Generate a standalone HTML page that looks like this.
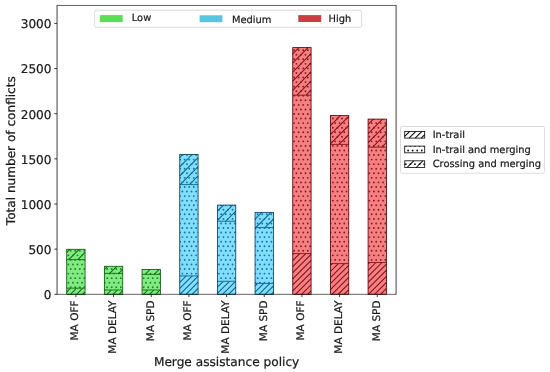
<!DOCTYPE html>
<html><head><meta charset="utf-8"><title>Conflicts</title>
<style>html,body{margin:0;padding:0;background:#fff}svg{display:block}text{font-family:'DejaVu Sans','Liberation Sans',sans-serif;fill:#1a1a1a;stroke:#1a1a1a;stroke-width:0.22px;text-rendering:geometricPrecision}</style></head><body>
<svg width="550" height="372" viewBox="0 0 550 372">
<defs><filter id="soft" x="0" y="0" width="550" height="372" filterUnits="userSpaceOnUse"><feGaussianBlur stdDeviation="0.35"/></filter></defs>
<rect width="550" height="372" fill="#fff"/>
<g filter="url(#soft)">
<rect x="66.71" y="288.2" width="18.35" height="6.1" fill="#82ea82"/>
<path d="M66.71 292.01L70.52 288.2M70.5 294.3L76.6 288.2M76.58 294.3L82.68 288.2M82.66 294.3L85.06 291.9" stroke="#106e10" stroke-width="1.05" fill="none"/>
<rect x="66.71" y="259.6" width="18.35" height="28.6" fill="#82ea82"/>
<clipPath id="c1"><rect x="66.71" y="259.6" width="18.35" height="28.6"/></clipPath>
<path clip-path="url(#c1)" d="M66.12 259.92h0M70.68 259.92h0M75.24 259.92h0M79.8 259.92h0M84.36 259.92h0M68.4 264.48h0M72.96 264.48h0M77.52 264.48h0M82.08 264.48h0M66.12 269.04h0M70.68 269.04h0M75.24 269.04h0M79.8 269.04h0M84.36 269.04h0M68.4 273.6h0M72.96 273.6h0M77.52 273.6h0M82.08 273.6h0M66.12 278.16h0M70.68 278.16h0M75.24 278.16h0M79.8 278.16h0M84.36 278.16h0M68.4 282.72h0M72.96 282.72h0M77.52 282.72h0M82.08 282.72h0M66.12 287.28h0M70.68 287.28h0M75.24 287.28h0M79.8 287.28h0M84.36 287.28h0" stroke="#1c8a24" stroke-width="1.9" stroke-linecap="round" fill="none"/>
<rect x="66.71" y="249.3" width="18.35" height="10.3" fill="#82ea82"/>
<path d="M66.71 252.49L69.9 249.3M68.72 259.6L79.02 249.3M77.84 259.6L85.06 252.38" stroke="#106e10" stroke-width="1.05" fill="none"/>
<clipPath id="c2"><rect x="66.71" y="249.3" width="18.35" height="10.3"/></clipPath>
<path clip-path="url(#c2)" d="M66.12 250.8h0M70.68 250.8h0M75.24 250.8h0M79.8 250.8h0M84.36 250.8h0M68.4 255.36h0M72.96 255.36h0M77.52 255.36h0M82.08 255.36h0M66.12 259.92h0M70.68 259.92h0M75.24 259.92h0M79.8 259.92h0M84.36 259.92h0" stroke="#1c8a24" stroke-width="1.9" stroke-linecap="round" fill="none"/>
<path d="M66.71 259.6H85.06M66.71 288.2H85.06" stroke="#106e10" stroke-width="0.9" fill="none"/>
<rect x="66.71" y="249.3" width="18.35" height="45" fill="none" stroke="#125a12" stroke-width="0.85"/>
<rect x="104.38" y="290" width="18.35" height="4.3" fill="#82ea82"/>
<path d="M104.38 290.82L105.2 290M106.98 294.3L111.28 290M113.06 294.3L117.36 290M119.14 294.3L122.73 290.71" stroke="#106e10" stroke-width="1.05" fill="none"/>
<rect x="104.38" y="273.4" width="18.35" height="16.6" fill="#82ea82"/>
<clipPath id="c3"><rect x="104.38" y="273.4" width="18.35" height="16.6"/></clipPath>
<path clip-path="url(#c3)" d="M104.88 273.6h0M109.44 273.6h0M114 273.6h0M118.56 273.6h0M123.12 273.6h0M107.16 278.16h0M111.72 278.16h0M116.28 278.16h0M120.84 278.16h0M104.88 282.72h0M109.44 282.72h0M114 282.72h0M118.56 282.72h0M123.12 282.72h0M107.16 287.28h0M111.72 287.28h0M116.28 287.28h0M120.84 287.28h0" stroke="#1c8a24" stroke-width="1.9" stroke-linecap="round" fill="none"/>
<rect x="104.38" y="266.3" width="18.35" height="7.1" fill="#82ea82"/>
<path d="M104.38 269.54L107.62 266.3M109.64 273.4L116.74 266.3M118.76 273.4L122.73 269.43" stroke="#106e10" stroke-width="1.05" fill="none"/>
<clipPath id="c4"><rect x="104.38" y="266.3" width="18.35" height="7.1"/></clipPath>
<path clip-path="url(#c4)" d="M107.16 269.04h0M111.72 269.04h0M116.28 269.04h0M120.84 269.04h0M104.88 273.6h0M109.44 273.6h0M114 273.6h0M118.56 273.6h0M123.12 273.6h0" stroke="#1c8a24" stroke-width="1.9" stroke-linecap="round" fill="none"/>
<path d="M104.38 273.4H122.73M104.38 290H122.73" stroke="#106e10" stroke-width="0.9" fill="none"/>
<rect x="104.38" y="266.3" width="18.35" height="28" fill="none" stroke="#125a12" stroke-width="0.85"/>
<rect x="142.06" y="290" width="18.35" height="4.3" fill="#82ea82"/>
<path d="M143.46 294.3L147.76 290M149.54 294.3L153.84 290M155.62 294.3L159.92 290" stroke="#106e10" stroke-width="1.05" fill="none"/>
<rect x="142.06" y="274.4" width="18.35" height="15.6" fill="#82ea82"/>
<clipPath id="c5"><rect x="142.06" y="274.4" width="18.35" height="15.6"/></clipPath>
<path clip-path="url(#c5)" d="M141.36 273.6h0M145.92 273.6h0M150.48 273.6h0M155.04 273.6h0M159.6 273.6h0M143.64 278.16h0M148.2 278.16h0M152.76 278.16h0M157.32 278.16h0M141.36 282.72h0M145.92 282.72h0M150.48 282.72h0M155.04 282.72h0M159.6 282.72h0M143.64 287.28h0M148.2 287.28h0M152.76 287.28h0M157.32 287.28h0" stroke="#1c8a24" stroke-width="1.9" stroke-linecap="round" fill="none"/>
<rect x="142.06" y="269.5" width="18.35" height="4.9" fill="#82ea82"/>
<path d="M145.12 274.4L150.02 269.5M154.24 274.4L159.14 269.5" stroke="#106e10" stroke-width="1.05" fill="none"/>
<clipPath id="c6"><rect x="142.06" y="269.5" width="18.35" height="4.9"/></clipPath>
<path clip-path="url(#c6)" d="M143.64 269.04h0M148.2 269.04h0M152.76 269.04h0M157.32 269.04h0M141.36 273.6h0M145.92 273.6h0M150.48 273.6h0M155.04 273.6h0M159.6 273.6h0" stroke="#1c8a24" stroke-width="1.9" stroke-linecap="round" fill="none"/>
<path d="M142.06 274.4H160.41M142.06 290H160.41" stroke="#106e10" stroke-width="0.9" fill="none"/>
<rect x="142.06" y="269.5" width="18.35" height="24.8" fill="none" stroke="#125a12" stroke-width="0.85"/>
<rect x="179.73" y="275.9" width="18.35" height="18.4" fill="#81deff"/>
<path d="M179.73 276.27L180.1 275.9M179.73 282.35L186.18 275.9M179.73 288.43L192.26 275.9M179.94 294.3L198.08 276.16M186.02 294.3L198.08 282.24M192.1 294.3L198.08 288.32" stroke="#0e628a" stroke-width="1.05" fill="none"/>
<rect x="179.73" y="184.6" width="18.35" height="91.3" fill="#81deff"/>
<clipPath id="c7"><rect x="179.73" y="184.6" width="18.35" height="91.3"/></clipPath>
<path clip-path="url(#c7)" d="M180.12 186.96h0M184.68 186.96h0M189.24 186.96h0M193.8 186.96h0M198.36 186.96h0M182.4 191.52h0M186.96 191.52h0M191.52 191.52h0M196.08 191.52h0M180.12 196.08h0M184.68 196.08h0M189.24 196.08h0M193.8 196.08h0M198.36 196.08h0M182.4 200.64h0M186.96 200.64h0M191.52 200.64h0M196.08 200.64h0M180.12 205.2h0M184.68 205.2h0M189.24 205.2h0M193.8 205.2h0M198.36 205.2h0M182.4 209.76h0M186.96 209.76h0M191.52 209.76h0M196.08 209.76h0M180.12 214.32h0M184.68 214.32h0M189.24 214.32h0M193.8 214.32h0M198.36 214.32h0M182.4 218.88h0M186.96 218.88h0M191.52 218.88h0M196.08 218.88h0M180.12 223.44h0M184.68 223.44h0M189.24 223.44h0M193.8 223.44h0M198.36 223.44h0M182.4 228h0M186.96 228h0M191.52 228h0M196.08 228h0M180.12 232.56h0M184.68 232.56h0M189.24 232.56h0M193.8 232.56h0M198.36 232.56h0M182.4 237.12h0M186.96 237.12h0M191.52 237.12h0M196.08 237.12h0M180.12 241.68h0M184.68 241.68h0M189.24 241.68h0M193.8 241.68h0M198.36 241.68h0M182.4 246.24h0M186.96 246.24h0M191.52 246.24h0M196.08 246.24h0M180.12 250.8h0M184.68 250.8h0M189.24 250.8h0M193.8 250.8h0M198.36 250.8h0M182.4 255.36h0M186.96 255.36h0M191.52 255.36h0M196.08 255.36h0M180.12 259.92h0M184.68 259.92h0M189.24 259.92h0M193.8 259.92h0M198.36 259.92h0M182.4 264.48h0M186.96 264.48h0M191.52 264.48h0M196.08 264.48h0M180.12 269.04h0M184.68 269.04h0M189.24 269.04h0M193.8 269.04h0M198.36 269.04h0M182.4 273.6h0M186.96 273.6h0M191.52 273.6h0M196.08 273.6h0" stroke="#1a74a2" stroke-width="1.9" stroke-linecap="round" fill="none"/>
<rect x="179.73" y="154.5" width="18.35" height="30.1" fill="#81deff"/>
<path d="M179.73 157.71L182.94 154.5M179.73 166.83L192.06 154.5M179.73 175.95L198.08 157.6M180.2 184.6L198.08 166.72M189.32 184.6L198.08 175.84" stroke="#0e628a" stroke-width="1.05" fill="none"/>
<clipPath id="c8"><rect x="179.73" y="154.5" width="18.35" height="30.1"/></clipPath>
<path clip-path="url(#c8)" d="M182.4 155.04h0M186.96 155.04h0M191.52 155.04h0M196.08 155.04h0M180.12 159.6h0M184.68 159.6h0M189.24 159.6h0M193.8 159.6h0M198.36 159.6h0M182.4 164.16h0M186.96 164.16h0M191.52 164.16h0M196.08 164.16h0M180.12 168.72h0M184.68 168.72h0M189.24 168.72h0M193.8 168.72h0M198.36 168.72h0M182.4 173.28h0M186.96 173.28h0M191.52 173.28h0M196.08 173.28h0M180.12 177.84h0M184.68 177.84h0M189.24 177.84h0M193.8 177.84h0M198.36 177.84h0M182.4 182.4h0M186.96 182.4h0M191.52 182.4h0M196.08 182.4h0" stroke="#1a74a2" stroke-width="1.9" stroke-linecap="round" fill="none"/>
<path d="M179.73 184.6H198.08M179.73 275.9H198.08" stroke="#0e628a" stroke-width="0.9" fill="none"/>
<rect x="179.73" y="154.5" width="18.35" height="139.8" fill="none" stroke="#0c4258" stroke-width="0.85"/>
<rect x="217.4" y="281.3" width="18.35" height="13" fill="#81deff"/>
<path d="M217.4 287.24L223.34 281.3M217.4 293.32L229.42 281.3M222.5 294.3L235.5 281.3M228.58 294.3L235.75 287.13M234.66 294.3L235.75 293.21" stroke="#0e628a" stroke-width="1.05" fill="none"/>
<rect x="217.4" y="221.25" width="18.35" height="60.05" fill="#81deff"/>
<clipPath id="c9"><rect x="217.4" y="221.25" width="18.35" height="60.05"/></clipPath>
<path clip-path="url(#c9)" d="M216.6 223.44h0M221.16 223.44h0M225.72 223.44h0M230.28 223.44h0M234.84 223.44h0M218.88 228h0M223.44 228h0M228 228h0M232.56 228h0M216.6 232.56h0M221.16 232.56h0M225.72 232.56h0M230.28 232.56h0M234.84 232.56h0M218.88 237.12h0M223.44 237.12h0M228 237.12h0M232.56 237.12h0M216.6 241.68h0M221.16 241.68h0M225.72 241.68h0M230.28 241.68h0M234.84 241.68h0M218.88 246.24h0M223.44 246.24h0M228 246.24h0M232.56 246.24h0M216.6 250.8h0M221.16 250.8h0M225.72 250.8h0M230.28 250.8h0M234.84 250.8h0M218.88 255.36h0M223.44 255.36h0M228 255.36h0M232.56 255.36h0M216.6 259.92h0M221.16 259.92h0M225.72 259.92h0M230.28 259.92h0M234.84 259.92h0M218.88 264.48h0M223.44 264.48h0M228 264.48h0M232.56 264.48h0M216.6 269.04h0M221.16 269.04h0M225.72 269.04h0M230.28 269.04h0M234.84 269.04h0M218.88 273.6h0M223.44 273.6h0M228 273.6h0M232.56 273.6h0M216.6 278.16h0M221.16 278.16h0M225.72 278.16h0M230.28 278.16h0M234.84 278.16h0" stroke="#1a74a2" stroke-width="1.9" stroke-linecap="round" fill="none"/>
<rect x="217.4" y="205.1" width="18.35" height="16.15" fill="#81deff"/>
<path d="M217.4 211.24L223.54 205.1M217.4 220.36L232.66 205.1M225.63 221.25L235.75 211.13M234.75 221.25L235.75 220.25" stroke="#0e628a" stroke-width="1.05" fill="none"/>
<clipPath id="c10"><rect x="217.4" y="205.1" width="18.35" height="16.15"/></clipPath>
<path clip-path="url(#c10)" d="M216.6 205.2h0M221.16 205.2h0M225.72 205.2h0M230.28 205.2h0M234.84 205.2h0M218.88 209.76h0M223.44 209.76h0M228 209.76h0M232.56 209.76h0M216.6 214.32h0M221.16 214.32h0M225.72 214.32h0M230.28 214.32h0M234.84 214.32h0M218.88 218.88h0M223.44 218.88h0M228 218.88h0M232.56 218.88h0" stroke="#1a74a2" stroke-width="1.9" stroke-linecap="round" fill="none"/>
<path d="M217.4 221.25H235.75M217.4 281.3H235.75" stroke="#0e628a" stroke-width="0.9" fill="none"/>
<rect x="217.4" y="205.1" width="18.35" height="89.2" fill="none" stroke="#0c4258" stroke-width="0.85"/>
<rect x="255.07" y="283.4" width="18.35" height="10.9" fill="#81deff"/>
<path d="M255.07 286.05L257.72 283.4M255.07 292.13L263.8 283.4M258.98 294.3L269.88 283.4M265.06 294.3L273.42 285.94M271.14 294.3L273.42 292.02" stroke="#0e628a" stroke-width="1.05" fill="none"/>
<rect x="255.07" y="227.6" width="18.35" height="55.8" fill="#81deff"/>
<clipPath id="c11"><rect x="255.07" y="227.6" width="18.35" height="55.8"/></clipPath>
<path clip-path="url(#c11)" d="M255.36 228h0M259.92 228h0M264.48 228h0M269.04 228h0M273.6 228h0M257.64 232.56h0M262.2 232.56h0M266.76 232.56h0M271.32 232.56h0M255.36 237.12h0M259.92 237.12h0M264.48 237.12h0M269.04 237.12h0M273.6 237.12h0M257.64 241.68h0M262.2 241.68h0M266.76 241.68h0M271.32 241.68h0M255.36 246.24h0M259.92 246.24h0M264.48 246.24h0M269.04 246.24h0M273.6 246.24h0M257.64 250.8h0M262.2 250.8h0M266.76 250.8h0M271.32 250.8h0M255.36 255.36h0M259.92 255.36h0M264.48 255.36h0M269.04 255.36h0M273.6 255.36h0M257.64 259.92h0M262.2 259.92h0M266.76 259.92h0M271.32 259.92h0M255.36 264.48h0M259.92 264.48h0M264.48 264.48h0M269.04 264.48h0M273.6 264.48h0M257.64 269.04h0M262.2 269.04h0M266.76 269.04h0M271.32 269.04h0M255.36 273.6h0M259.92 273.6h0M264.48 273.6h0M269.04 273.6h0M273.6 273.6h0M257.64 278.16h0M262.2 278.16h0M266.76 278.16h0M271.32 278.16h0M255.36 282.72h0M259.92 282.72h0M264.48 282.72h0M269.04 282.72h0M273.6 282.72h0" stroke="#1a74a2" stroke-width="1.9" stroke-linecap="round" fill="none"/>
<rect x="255.07" y="212.35" width="18.35" height="15.25" fill="#81deff"/>
<path d="M255.07 219.17L261.89 212.35M255.76 227.6L271.01 212.35M264.88 227.6L273.42 219.06" stroke="#0e628a" stroke-width="1.05" fill="none"/>
<clipPath id="c12"><rect x="255.07" y="212.35" width="18.35" height="15.25"/></clipPath>
<path clip-path="url(#c12)" d="M257.64 214.32h0M262.2 214.32h0M266.76 214.32h0M271.32 214.32h0M255.36 218.88h0M259.92 218.88h0M264.48 218.88h0M269.04 218.88h0M273.6 218.88h0M257.64 223.44h0M262.2 223.44h0M266.76 223.44h0M271.32 223.44h0M255.36 228h0M259.92 228h0M264.48 228h0M269.04 228h0M273.6 228h0" stroke="#1a74a2" stroke-width="1.9" stroke-linecap="round" fill="none"/>
<path d="M255.07 227.6H273.42M255.07 283.4H273.42" stroke="#0e628a" stroke-width="0.9" fill="none"/>
<rect x="255.07" y="212.35" width="18.35" height="81.95" fill="none" stroke="#0c4258" stroke-width="0.85"/>
<rect x="292.74" y="253.6" width="18.35" height="40.7" fill="#f38184"/>
<path d="M292.74 254.46L293.6 253.6M292.74 260.54L299.68 253.6M292.74 266.62L305.76 253.6M292.74 272.7L311.09 254.35M292.74 278.78L311.09 260.43M292.74 284.86L311.09 266.51M292.74 290.94L311.09 272.59M295.46 294.3L311.09 278.67M301.54 294.3L311.09 284.75M307.62 294.3L311.09 290.83" stroke="#860e14" stroke-width="1.05" fill="none"/>
<rect x="292.74" y="95.2" width="18.35" height="158.4" fill="#f38184"/>
<clipPath id="c13"><rect x="292.74" y="95.2" width="18.35" height="158.4"/></clipPath>
<path clip-path="url(#c13)" d="M294.12 95.76h0M298.68 95.76h0M303.24 95.76h0M307.8 95.76h0M291.84 100.32h0M296.4 100.32h0M300.96 100.32h0M305.52 100.32h0M310.08 100.32h0M294.12 104.88h0M298.68 104.88h0M303.24 104.88h0M307.8 104.88h0M291.84 109.44h0M296.4 109.44h0M300.96 109.44h0M305.52 109.44h0M310.08 109.44h0M294.12 114h0M298.68 114h0M303.24 114h0M307.8 114h0M291.84 118.56h0M296.4 118.56h0M300.96 118.56h0M305.52 118.56h0M310.08 118.56h0M294.12 123.12h0M298.68 123.12h0M303.24 123.12h0M307.8 123.12h0M291.84 127.68h0M296.4 127.68h0M300.96 127.68h0M305.52 127.68h0M310.08 127.68h0M294.12 132.24h0M298.68 132.24h0M303.24 132.24h0M307.8 132.24h0M291.84 136.8h0M296.4 136.8h0M300.96 136.8h0M305.52 136.8h0M310.08 136.8h0M294.12 141.36h0M298.68 141.36h0M303.24 141.36h0M307.8 141.36h0M291.84 145.92h0M296.4 145.92h0M300.96 145.92h0M305.52 145.92h0M310.08 145.92h0M294.12 150.48h0M298.68 150.48h0M303.24 150.48h0M307.8 150.48h0M291.84 155.04h0M296.4 155.04h0M300.96 155.04h0M305.52 155.04h0M310.08 155.04h0M294.12 159.6h0M298.68 159.6h0M303.24 159.6h0M307.8 159.6h0M291.84 164.16h0M296.4 164.16h0M300.96 164.16h0M305.52 164.16h0M310.08 164.16h0M294.12 168.72h0M298.68 168.72h0M303.24 168.72h0M307.8 168.72h0M291.84 173.28h0M296.4 173.28h0M300.96 173.28h0M305.52 173.28h0M310.08 173.28h0M294.12 177.84h0M298.68 177.84h0M303.24 177.84h0M307.8 177.84h0M291.84 182.4h0M296.4 182.4h0M300.96 182.4h0M305.52 182.4h0M310.08 182.4h0M294.12 186.96h0M298.68 186.96h0M303.24 186.96h0M307.8 186.96h0M291.84 191.52h0M296.4 191.52h0M300.96 191.52h0M305.52 191.52h0M310.08 191.52h0M294.12 196.08h0M298.68 196.08h0M303.24 196.08h0M307.8 196.08h0M291.84 200.64h0M296.4 200.64h0M300.96 200.64h0M305.52 200.64h0M310.08 200.64h0M294.12 205.2h0M298.68 205.2h0M303.24 205.2h0M307.8 205.2h0M291.84 209.76h0M296.4 209.76h0M300.96 209.76h0M305.52 209.76h0M310.08 209.76h0M294.12 214.32h0M298.68 214.32h0M303.24 214.32h0M307.8 214.32h0M291.84 218.88h0M296.4 218.88h0M300.96 218.88h0M305.52 218.88h0M310.08 218.88h0M294.12 223.44h0M298.68 223.44h0M303.24 223.44h0M307.8 223.44h0M291.84 228h0M296.4 228h0M300.96 228h0M305.52 228h0M310.08 228h0M294.12 232.56h0M298.68 232.56h0M303.24 232.56h0M307.8 232.56h0M291.84 237.12h0M296.4 237.12h0M300.96 237.12h0M305.52 237.12h0M310.08 237.12h0M294.12 241.68h0M298.68 241.68h0M303.24 241.68h0M307.8 241.68h0M291.84 246.24h0M296.4 246.24h0M300.96 246.24h0M305.52 246.24h0M310.08 246.24h0M294.12 250.8h0M298.68 250.8h0M303.24 250.8h0M307.8 250.8h0" stroke="#9c141c" stroke-width="1.9" stroke-linecap="round" fill="none"/>
<rect x="292.74" y="47.6" width="18.35" height="47.6" fill="#f38184"/>
<path d="M292.74 53.82L298.96 47.6M292.74 62.94L308.08 47.6M292.74 72.06L311.09 53.71M292.74 81.18L311.09 62.83M292.74 90.3L311.09 71.95M296.96 95.2L311.09 81.07M306.08 95.2L311.09 90.19" stroke="#860e14" stroke-width="1.05" fill="none"/>
<clipPath id="c14"><rect x="292.74" y="47.6" width="18.35" height="47.6"/></clipPath>
<path clip-path="url(#c14)" d="M294.12 50.16h0M298.68 50.16h0M303.24 50.16h0M307.8 50.16h0M291.84 54.72h0M296.4 54.72h0M300.96 54.72h0M305.52 54.72h0M310.08 54.72h0M294.12 59.28h0M298.68 59.28h0M303.24 59.28h0M307.8 59.28h0M291.84 63.84h0M296.4 63.84h0M300.96 63.84h0M305.52 63.84h0M310.08 63.84h0M294.12 68.4h0M298.68 68.4h0M303.24 68.4h0M307.8 68.4h0M291.84 72.96h0M296.4 72.96h0M300.96 72.96h0M305.52 72.96h0M310.08 72.96h0M294.12 77.52h0M298.68 77.52h0M303.24 77.52h0M307.8 77.52h0M291.84 82.08h0M296.4 82.08h0M300.96 82.08h0M305.52 82.08h0M310.08 82.08h0M294.12 86.64h0M298.68 86.64h0M303.24 86.64h0M307.8 86.64h0M291.84 91.2h0M296.4 91.2h0M300.96 91.2h0M305.52 91.2h0M310.08 91.2h0M294.12 95.76h0M298.68 95.76h0M303.24 95.76h0M307.8 95.76h0" stroke="#9c141c" stroke-width="1.9" stroke-linecap="round" fill="none"/>
<path d="M292.74 95.2H311.09M292.74 253.6H311.09" stroke="#860e14" stroke-width="0.9" fill="none"/>
<rect x="292.74" y="47.6" width="18.35" height="246.7" fill="none" stroke="#5a080c" stroke-width="0.85"/>
<rect x="330.42" y="263.6" width="18.35" height="30.7" fill="#f38184"/>
<path d="M330.42 265.42L332.24 263.6M330.42 271.5L338.32 263.6M330.42 277.58L344.4 263.6M330.42 283.66L348.77 265.31M330.42 289.74L348.77 271.39M331.94 294.3L348.77 277.47M338.02 294.3L348.77 283.55M344.1 294.3L348.77 289.63" stroke="#860e14" stroke-width="1.05" fill="none"/>
<rect x="330.42" y="144.4" width="18.35" height="119.2" fill="#f38184"/>
<clipPath id="c15"><rect x="330.42" y="144.4" width="18.35" height="119.2"/></clipPath>
<path clip-path="url(#c15)" d="M332.88 145.92h0M337.44 145.92h0M342 145.92h0M346.56 145.92h0M330.6 150.48h0M335.16 150.48h0M339.72 150.48h0M344.28 150.48h0M348.84 150.48h0M332.88 155.04h0M337.44 155.04h0M342 155.04h0M346.56 155.04h0M330.6 159.6h0M335.16 159.6h0M339.72 159.6h0M344.28 159.6h0M348.84 159.6h0M332.88 164.16h0M337.44 164.16h0M342 164.16h0M346.56 164.16h0M330.6 168.72h0M335.16 168.72h0M339.72 168.72h0M344.28 168.72h0M348.84 168.72h0M332.88 173.28h0M337.44 173.28h0M342 173.28h0M346.56 173.28h0M330.6 177.84h0M335.16 177.84h0M339.72 177.84h0M344.28 177.84h0M348.84 177.84h0M332.88 182.4h0M337.44 182.4h0M342 182.4h0M346.56 182.4h0M330.6 186.96h0M335.16 186.96h0M339.72 186.96h0M344.28 186.96h0M348.84 186.96h0M332.88 191.52h0M337.44 191.52h0M342 191.52h0M346.56 191.52h0M330.6 196.08h0M335.16 196.08h0M339.72 196.08h0M344.28 196.08h0M348.84 196.08h0M332.88 200.64h0M337.44 200.64h0M342 200.64h0M346.56 200.64h0M330.6 205.2h0M335.16 205.2h0M339.72 205.2h0M344.28 205.2h0M348.84 205.2h0M332.88 209.76h0M337.44 209.76h0M342 209.76h0M346.56 209.76h0M330.6 214.32h0M335.16 214.32h0M339.72 214.32h0M344.28 214.32h0M348.84 214.32h0M332.88 218.88h0M337.44 218.88h0M342 218.88h0M346.56 218.88h0M330.6 223.44h0M335.16 223.44h0M339.72 223.44h0M344.28 223.44h0M348.84 223.44h0M332.88 228h0M337.44 228h0M342 228h0M346.56 228h0M330.6 232.56h0M335.16 232.56h0M339.72 232.56h0M344.28 232.56h0M348.84 232.56h0M332.88 237.12h0M337.44 237.12h0M342 237.12h0M346.56 237.12h0M330.6 241.68h0M335.16 241.68h0M339.72 241.68h0M344.28 241.68h0M348.84 241.68h0M332.88 246.24h0M337.44 246.24h0M342 246.24h0M346.56 246.24h0M330.6 250.8h0M335.16 250.8h0M339.72 250.8h0M344.28 250.8h0M348.84 250.8h0M332.88 255.36h0M337.44 255.36h0M342 255.36h0M346.56 255.36h0M330.6 259.92h0M335.16 259.92h0M339.72 259.92h0M344.28 259.92h0M348.84 259.92h0M332.88 264.48h0M337.44 264.48h0M342 264.48h0M346.56 264.48h0" stroke="#9c141c" stroke-width="1.9" stroke-linecap="round" fill="none"/>
<rect x="330.42" y="115.6" width="18.35" height="28.8" fill="#f38184"/>
<path d="M330.42 116.46L331.28 115.6M330.42 125.58L340.4 115.6M330.42 134.7L348.77 116.35M330.42 143.82L348.77 125.47M338.96 144.4L348.77 134.59M348.08 144.4L348.77 143.71" stroke="#860e14" stroke-width="1.05" fill="none"/>
<clipPath id="c16"><rect x="330.42" y="115.6" width="18.35" height="28.8"/></clipPath>
<path clip-path="url(#c16)" d="M332.88 118.56h0M337.44 118.56h0M342 118.56h0M346.56 118.56h0M330.6 123.12h0M335.16 123.12h0M339.72 123.12h0M344.28 123.12h0M348.84 123.12h0M332.88 127.68h0M337.44 127.68h0M342 127.68h0M346.56 127.68h0M330.6 132.24h0M335.16 132.24h0M339.72 132.24h0M344.28 132.24h0M348.84 132.24h0M332.88 136.8h0M337.44 136.8h0M342 136.8h0M346.56 136.8h0M330.6 141.36h0M335.16 141.36h0M339.72 141.36h0M344.28 141.36h0M348.84 141.36h0" stroke="#9c141c" stroke-width="1.9" stroke-linecap="round" fill="none"/>
<path d="M330.42 144.4H348.77M330.42 263.6H348.77" stroke="#860e14" stroke-width="0.9" fill="none"/>
<rect x="330.42" y="115.6" width="18.35" height="178.7" fill="none" stroke="#5a080c" stroke-width="0.85"/>
<rect x="368.09" y="262.5" width="18.35" height="31.8" fill="#f38184"/>
<path d="M368.09 264.23L369.82 262.5M368.09 270.31L375.9 262.5M368.09 276.39L381.98 262.5M368.09 282.47L386.44 264.12M368.09 288.55L386.44 270.2M368.42 294.3L386.44 276.28M374.5 294.3L386.44 282.36M380.58 294.3L386.44 288.44" stroke="#860e14" stroke-width="1.05" fill="none"/>
<rect x="368.09" y="147.2" width="18.35" height="115.3" fill="#f38184"/>
<clipPath id="c17"><rect x="368.09" y="147.2" width="18.35" height="115.3"/></clipPath>
<path clip-path="url(#c17)" d="M371.64 150.48h0M376.2 150.48h0M380.76 150.48h0M385.32 150.48h0M369.36 155.04h0M373.92 155.04h0M378.48 155.04h0M383.04 155.04h0M371.64 159.6h0M376.2 159.6h0M380.76 159.6h0M385.32 159.6h0M369.36 164.16h0M373.92 164.16h0M378.48 164.16h0M383.04 164.16h0M371.64 168.72h0M376.2 168.72h0M380.76 168.72h0M385.32 168.72h0M369.36 173.28h0M373.92 173.28h0M378.48 173.28h0M383.04 173.28h0M371.64 177.84h0M376.2 177.84h0M380.76 177.84h0M385.32 177.84h0M369.36 182.4h0M373.92 182.4h0M378.48 182.4h0M383.04 182.4h0M371.64 186.96h0M376.2 186.96h0M380.76 186.96h0M385.32 186.96h0M369.36 191.52h0M373.92 191.52h0M378.48 191.52h0M383.04 191.52h0M371.64 196.08h0M376.2 196.08h0M380.76 196.08h0M385.32 196.08h0M369.36 200.64h0M373.92 200.64h0M378.48 200.64h0M383.04 200.64h0M371.64 205.2h0M376.2 205.2h0M380.76 205.2h0M385.32 205.2h0M369.36 209.76h0M373.92 209.76h0M378.48 209.76h0M383.04 209.76h0M371.64 214.32h0M376.2 214.32h0M380.76 214.32h0M385.32 214.32h0M369.36 218.88h0M373.92 218.88h0M378.48 218.88h0M383.04 218.88h0M371.64 223.44h0M376.2 223.44h0M380.76 223.44h0M385.32 223.44h0M369.36 228h0M373.92 228h0M378.48 228h0M383.04 228h0M371.64 232.56h0M376.2 232.56h0M380.76 232.56h0M385.32 232.56h0M369.36 237.12h0M373.92 237.12h0M378.48 237.12h0M383.04 237.12h0M371.64 241.68h0M376.2 241.68h0M380.76 241.68h0M385.32 241.68h0M369.36 246.24h0M373.92 246.24h0M378.48 246.24h0M383.04 246.24h0M371.64 250.8h0M376.2 250.8h0M380.76 250.8h0M385.32 250.8h0M369.36 255.36h0M373.92 255.36h0M378.48 255.36h0M383.04 255.36h0M371.64 259.92h0M376.2 259.92h0M380.76 259.92h0M385.32 259.92h0" stroke="#9c141c" stroke-width="1.9" stroke-linecap="round" fill="none"/>
<rect x="368.09" y="119.1" width="18.35" height="28.1" fill="#f38184"/>
<path d="M368.09 124.39L373.38 119.1M368.09 133.51L382.5 119.1M368.09 142.63L386.44 124.28M372.64 147.2L386.44 133.4M381.76 147.2L386.44 142.52" stroke="#860e14" stroke-width="1.05" fill="none"/>
<clipPath id="c18"><rect x="368.09" y="119.1" width="18.35" height="28.1"/></clipPath>
<path clip-path="url(#c18)" d="M369.36 118.56h0M373.92 118.56h0M378.48 118.56h0M383.04 118.56h0M371.64 123.12h0M376.2 123.12h0M380.76 123.12h0M385.32 123.12h0M369.36 127.68h0M373.92 127.68h0M378.48 127.68h0M383.04 127.68h0M371.64 132.24h0M376.2 132.24h0M380.76 132.24h0M385.32 132.24h0M369.36 136.8h0M373.92 136.8h0M378.48 136.8h0M383.04 136.8h0M371.64 141.36h0M376.2 141.36h0M380.76 141.36h0M385.32 141.36h0M369.36 145.92h0M373.92 145.92h0M378.48 145.92h0M383.04 145.92h0" stroke="#9c141c" stroke-width="1.9" stroke-linecap="round" fill="none"/>
<path d="M368.09 147.2H386.44M368.09 262.5H386.44" stroke="#860e14" stroke-width="0.9" fill="none"/>
<rect x="368.09" y="119.1" width="18.35" height="175.2" fill="none" stroke="#5a080c" stroke-width="0.85"/>
<path d="M57.05 5.15V294.6M396.1 5.15V294.6" stroke="#0a0a0a" stroke-width="0.75" fill="none"/>
<path d="M57.05 5.45H396.1M57.05 294.3H396.1" stroke="#0a0a0a" stroke-width="0.62" fill="none"/>
<path d="M54.25 294.3H57.05" stroke="#0a0a0a" stroke-width="0.75"/>
<text x="51.5" y="299.2" font-size="12.1" text-anchor="end">0</text>
<path d="M54.25 249.15H57.05" stroke="#0a0a0a" stroke-width="0.75"/>
<text x="51.5" y="254.05" font-size="12.1" text-anchor="end">500</text>
<path d="M54.25 204H57.05" stroke="#0a0a0a" stroke-width="0.75"/>
<text x="51.5" y="208.9" font-size="12.1" text-anchor="end">1000</text>
<path d="M54.25 158.85H57.05" stroke="#0a0a0a" stroke-width="0.75"/>
<text x="51.5" y="163.75" font-size="12.1" text-anchor="end">1500</text>
<path d="M54.25 113.7H57.05" stroke="#0a0a0a" stroke-width="0.75"/>
<text x="51.5" y="118.6" font-size="12.1" text-anchor="end">2000</text>
<path d="M54.25 68.55H57.05" stroke="#0a0a0a" stroke-width="0.75"/>
<text x="51.5" y="73.45" font-size="12.1" text-anchor="end">2500</text>
<path d="M54.25 23.4H57.05" stroke="#0a0a0a" stroke-width="0.75"/>
<text x="51.5" y="28.3" font-size="12.1" text-anchor="end">3000</text>
<path d="M75.89 294.3V297.1" stroke="#0a0a0a" stroke-width="0.75"/>
<text transform="translate(78.19 300.5) rotate(-90)" font-size="10.5" text-anchor="end">MA OFF</text>
<path d="M113.56 294.3V297.1" stroke="#0a0a0a" stroke-width="0.75"/>
<text transform="translate(115.86 300.5) rotate(-90)" font-size="10.5" text-anchor="end">MA DELAY</text>
<path d="M151.23 294.3V297.1" stroke="#0a0a0a" stroke-width="0.75"/>
<text transform="translate(153.53 300.5) rotate(-90)" font-size="10.5" text-anchor="end">MA SPD</text>
<path d="M188.9 294.3V297.1" stroke="#0a0a0a" stroke-width="0.75"/>
<text transform="translate(191.2 300.5) rotate(-90)" font-size="10.5" text-anchor="end">MA OFF</text>
<path d="M226.57 294.3V297.1" stroke="#0a0a0a" stroke-width="0.75"/>
<text transform="translate(228.88 300.5) rotate(-90)" font-size="10.5" text-anchor="end">MA DELAY</text>
<path d="M264.25 294.3V297.1" stroke="#0a0a0a" stroke-width="0.75"/>
<text transform="translate(266.55 300.5) rotate(-90)" font-size="10.5" text-anchor="end">MA SPD</text>
<path d="M301.92 294.3V297.1" stroke="#0a0a0a" stroke-width="0.75"/>
<text transform="translate(304.22 300.5) rotate(-90)" font-size="10.5" text-anchor="end">MA OFF</text>
<path d="M339.59 294.3V297.1" stroke="#0a0a0a" stroke-width="0.75"/>
<text transform="translate(341.89 300.5) rotate(-90)" font-size="10.5" text-anchor="end">MA DELAY</text>
<path d="M377.26 294.3V297.1" stroke="#0a0a0a" stroke-width="0.75"/>
<text transform="translate(379.56 300.5) rotate(-90)" font-size="10.5" text-anchor="end">MA SPD</text>
<text x="226.58" y="366.3" font-size="12.16" text-anchor="middle">Merge assistance policy</text>
<text transform="translate(15 150.7) rotate(-90)" font-size="12.1" text-anchor="middle">Total number of conflicts</text>
<rect x="94.6" y="10.2" width="267" height="17.1" rx="1.6" fill="#fff" fill-opacity="0.8" stroke="#d0d0d0" stroke-width="0.75"/>
<rect x="99.8" y="15.1" width="22.9" height="7" fill="#5cdc5c"/>
<rect x="199.6" y="15.3" width="22.8" height="6.9" fill="#5bc2e0"/>
<rect x="298.3" y="15.1" width="22.9" height="6.9" fill="#cb3d43"/>
<text x="131.8" y="21.2" font-size="9.9">Low</text>
<text x="232" y="22.6" font-size="9.9">Medium</text>
<text x="328.6" y="22.0" font-size="9.9">High</text>
<rect x="400.5" y="126.5" width="144" height="46.8" rx="1.6" fill="#fff" stroke="#d0d0d0" stroke-width="0.75"/>
<rect x="404.7" y="131.4" width="20" height="6.7" fill="#fff"/>
<path d="M404.7 136.42L409.72 131.4M409.1 138.1L415.8 131.4M415.18 138.1L421.88 131.4M421.26 138.1L424.7 134.66" stroke="#0a0a0a" stroke-width="1.05" fill="none"/>
<rect x="404.7" y="131.4" width="20" height="6.7" fill="none" stroke="#111" stroke-width="0.85"/>
<text x="432.7" y="138" font-size="9.9">In-trail</text>
<rect x="404.7" y="146.1" width="20" height="6.7" fill="#fff"/>
<clipPath id="c19"><rect x="404.7" y="146.1" width="20" height="6.7"/></clipPath>
<path clip-path="url(#c19)" d="M405.84 145.92h0M410.4 145.92h0M414.96 145.92h0M419.52 145.92h0M424.08 145.92h0M408.12 150.48h0M412.68 150.48h0M417.24 150.48h0M421.8 150.48h0" stroke="#0a0a0a" stroke-width="1.8" stroke-linecap="round" fill="none"/>
<rect x="404.7" y="146.1" width="20" height="6.7" fill="none" stroke="#111" stroke-width="0.85"/>
<text x="432.7" y="152.7" font-size="9.9">In-trail and merging</text>
<rect x="404.7" y="160.8" width="20" height="6.7" fill="#fff"/>
<path d="M407.06 167.5L413.76 160.8M416.18 167.5L422.88 160.8" stroke="#0a0a0a" stroke-width="1.05" fill="none"/>
<clipPath id="c20"><rect x="404.7" y="160.8" width="20" height="6.7"/></clipPath>
<path clip-path="url(#c20)" d="M405.84 164.16h0M410.4 164.16h0M414.96 164.16h0M419.52 164.16h0M424.08 164.16h0" stroke="#0a0a0a" stroke-width="1.8" stroke-linecap="round" fill="none"/>
<rect x="404.7" y="160.8" width="20" height="6.7" fill="none" stroke="#111" stroke-width="0.85"/>
<text x="432.7" y="167.4" font-size="9.9">Crossing and merging</text>
</g>
</svg></body></html>
